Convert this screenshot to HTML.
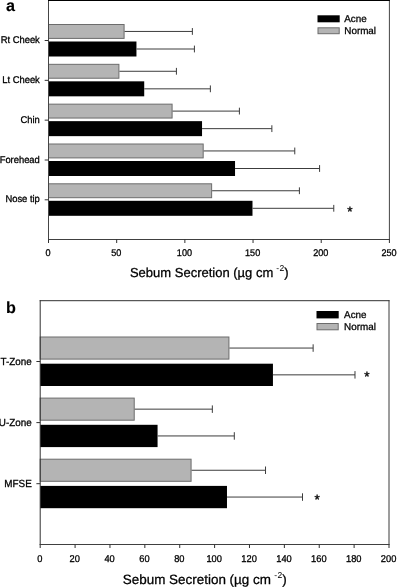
<!DOCTYPE html>
<html><head><meta charset="utf-8"><title>Sebum Secretion</title>
<style>
html,body{margin:0;padding:0;background:#fff;}
body{width:397px;height:587px;overflow:hidden;}
svg{display:block;font-family:"Liberation Sans",Arial,sans-serif;}
text{text-rendering:geometricPrecision;fill:#000;stroke:#000;stroke-width:0.28px;}
.sup{stroke-width:0.05px;}
.lab{font-size:9.4px;}
.tk{font-size:9.1px;}
.ttl{font-size:13px;}
.sup{font-size:8.5px;}
.pan{font-size:16.2px;font-weight:bold;stroke-width:0.1px;}
.ast{font-size:13.6px;stroke-width:0.35px;}
.leg{font-size:9.85px;}
</style></head><body>
<svg width="397" height="587" viewBox="0 0 397 587">
<rect x="0" y="0" width="397" height="587" fill="#fff"/>

<rect x="48.5" y="24.5" width="75.59" height="13.9" fill="#b4b4b4" stroke="#6c6c6c" stroke-width="1"/>
<path d="M124.59 31.45H192.36M192.36 28.05V34.85" stroke="#3c3c3c" stroke-width="1" fill="none"/>
<rect x="48.5" y="41.5" width="87.95" height="15" fill="#000"/>
<path d="M136.45 49H194.41M194.41 45.6V52.4" stroke="#3c3c3c" stroke-width="1" fill="none"/>
<path d="M44.7 40.5H48.5" stroke="#303030" stroke-width="1"/>
<text class="lab" transform="translate(39.8 43.1) scale(1 1.04)" text-anchor="end">Rt Cheek</text>
<rect x="48.5" y="64.33" width="70.41" height="13.9" fill="#b4b4b4" stroke="#6c6c6c" stroke-width="1"/>
<path d="M119.41 71.28H176.41M176.41 67.88V74.68" stroke="#3c3c3c" stroke-width="1" fill="none"/>
<rect x="48.5" y="81.33" width="95.72" height="15" fill="#000"/>
<path d="M144.22 88.83H210.36M210.36 85.43V92.23" stroke="#3c3c3c" stroke-width="1" fill="none"/>
<path d="M44.7 80.33H48.5" stroke="#303030" stroke-width="1"/>
<text class="lab" transform="translate(39.8 82.93) scale(1 1.04)" text-anchor="end">Lt Cheek</text>
<rect x="48.5" y="104.15" width="123.59" height="13.9" fill="#b4b4b4" stroke="#6c6c6c" stroke-width="1"/>
<path d="M172.59 111.1H239.4M239.4 107.7V114.5" stroke="#3c3c3c" stroke-width="1" fill="none"/>
<rect x="48.5" y="121.15" width="153.54" height="15" fill="#000"/>
<path d="M202.04 128.65H271.86M271.86 125.25V132.05" stroke="#3c3c3c" stroke-width="1" fill="none"/>
<path d="M44.7 120.15H48.5" stroke="#303030" stroke-width="1"/>
<text class="lab" transform="translate(39.8 122.75) scale(1 1.04)" text-anchor="end">Chin</text>
<rect x="48.5" y="144" width="154.68" height="13.9" fill="#b4b4b4" stroke="#6c6c6c" stroke-width="1"/>
<path d="M203.68 150.95H294.77M294.77 147.55V154.35" stroke="#3c3c3c" stroke-width="1" fill="none"/>
<rect x="48.5" y="161" width="186.54" height="15" fill="#000"/>
<path d="M235.04 168.5H319.58M319.58 165.1V171.9" stroke="#3c3c3c" stroke-width="1" fill="none"/>
<path d="M44.7 160H48.5" stroke="#303030" stroke-width="1"/>
<text class="lab" transform="translate(39.8 162.6) scale(1 1.04)" text-anchor="end">Forehead</text>
<rect x="48.5" y="183.8" width="163.13" height="13.9" fill="#b4b4b4" stroke="#6c6c6c" stroke-width="1"/>
<path d="M212.13 190.75H299.4M299.4 187.35V194.15" stroke="#3c3c3c" stroke-width="1" fill="none"/>
<rect x="48.5" y="200.8" width="203.99" height="15" fill="#000"/>
<path d="M252.49 208.3H333.77M333.77 204.9V211.7" stroke="#3c3c3c" stroke-width="1" fill="none"/>
<path d="M44.7 199.8H48.5" stroke="#303030" stroke-width="1"/>
<text class="lab" transform="translate(39.8 202.4) scale(1 1.04)" text-anchor="end">Nose tip</text>
<path d="M48.5 0V240" stroke="#454545" stroke-width="1" fill="none"/>
<path d="M389.4 0V240" stroke="#454545" stroke-width="1" fill="none"/>
<path d="M48 239.5H389.9" stroke="#404040" stroke-width="1" fill="none"/>
<path d="M48 0.5H389.9" stroke="#000" stroke-width="1" fill="none"/>
<path d="M48.5 239.5V243" stroke="#303030" stroke-width="1"/>
<text class="tk" transform="translate(48.1 256) scale(1 1.06)" text-anchor="middle">0</text>
<path d="M116.68 239.5V243" stroke="#303030" stroke-width="1"/>
<text class="tk" transform="translate(116.28 256) scale(1 1.06)" text-anchor="middle">50</text>
<path d="M184.86 239.5V243" stroke="#303030" stroke-width="1"/>
<text class="tk" transform="translate(184.46 256) scale(1 1.06)" text-anchor="middle">100</text>
<path d="M253.04 239.5V243" stroke="#303030" stroke-width="1"/>
<text class="tk" transform="translate(252.64 256) scale(1 1.06)" text-anchor="middle">150</text>
<path d="M321.22 239.5V243" stroke="#303030" stroke-width="1"/>
<text class="tk" transform="translate(320.82 256) scale(1 1.06)" text-anchor="middle">200</text>
<path d="M389.4 239.5V243" stroke="#303030" stroke-width="1"/>
<text class="tk" transform="translate(389 256) scale(1 1.06)" text-anchor="middle">250</text>
<text class="ttl" transform="translate(209.3 276.8) scale(1 1.0)" text-anchor="middle">Sebum Secretion (µg cm <tspan class="sup" dy="-6.2" dx="-0.5">-</tspan><tspan class="sup" dx="0.4">2</tspan><tspan dy="6.2">)</tspan></text>
<rect x="317.5" y="15.3" width="22.2" height="7" fill="#000"/>
<rect x="318" y="27.8" width="21.2" height="5.9" fill="#b4b4b4" stroke="#6c6c6c" stroke-width="1"/>
<text class="leg" transform="translate(344.3 21.9) scale(1 1.0)">Acne</text>
<text class="leg" transform="translate(344.3 33.8) scale(1 1.0)">Normal</text>
<text class="pan" x="6.1" y="10.8">a</text>
<text class="ast" x="349.8" y="216.1" text-anchor="middle">*</text>
<rect x="40.2" y="337" width="188.72" height="22.1" fill="#b4b4b4" stroke="#6c6c6c" stroke-width="1"/>
<path d="M229.42 348.05H313.14M313.14 344.3V351.8" stroke="#3c3c3c" stroke-width="1" fill="none"/>
<rect x="40.2" y="363.7" width="232.74" height="22.3" fill="#000"/>
<path d="M272.94 374.85H354.99M354.99 371.1V378.6" stroke="#3c3c3c" stroke-width="1" fill="none"/>
<path d="M36.4 361.5H40.2" stroke="#303030" stroke-width="1"/>
<text class="lab" transform="translate(31.8 364.9) scale(1 1.04)" text-anchor="end" style="font-size:9.9px">T-Zone</text>
<rect x="40.2" y="398.1" width="94.02" height="22.1" fill="#b4b4b4" stroke="#6c6c6c" stroke-width="1"/>
<path d="M134.72 409.15H212.33M212.33 405.4V412.9" stroke="#3c3c3c" stroke-width="1" fill="none"/>
<rect x="40.2" y="424.8" width="117.37" height="22.3" fill="#000"/>
<path d="M157.57 435.95H234.31M234.31 432.2V439.7" stroke="#3c3c3c" stroke-width="1" fill="none"/>
<path d="M36.4 422.6H40.2" stroke="#303030" stroke-width="1"/>
<text class="lab" transform="translate(31.8 426) scale(1 1.04)" text-anchor="end" style="font-size:9.9px">U-Zone</text>
<rect x="40.2" y="459.2" width="150.88" height="22.1" fill="#b4b4b4" stroke="#6c6c6c" stroke-width="1"/>
<path d="M191.58 470.25H265.52M265.52 466.5V474" stroke="#3c3c3c" stroke-width="1" fill="none"/>
<rect x="40.2" y="485.9" width="186.78" height="22.3" fill="#000"/>
<path d="M226.98 497.05H302.5M302.5 493.3V500.8" stroke="#3c3c3c" stroke-width="1" fill="none"/>
<path d="M36.4 483.7H40.2" stroke="#303030" stroke-width="1"/>
<text class="lab" transform="translate(31.8 487.1) scale(1 1.04)" text-anchor="end" style="font-size:9.9px">MFSE</text>
<path d="M40.2 300.2V545" stroke="#303030" stroke-width="1" fill="none"/>
<path d="M389 300.2V545" stroke="#3a3a3a" stroke-width="1" fill="none"/>
<path d="M39.7 544.5H389.5" stroke="#404040" stroke-width="1" fill="none"/>
<path d="M39.7 300.7H389.5" stroke="#303030" stroke-width="1" fill="none"/>
<path d="M40.2 544.5V548" stroke="#303030" stroke-width="1"/>
<text class="tk" transform="translate(39.8 561.6) scale(1 1.06)" text-anchor="middle" style="font-size:9.3px">0</text>
<path d="M75.08 544.5V548" stroke="#303030" stroke-width="1"/>
<text class="tk" transform="translate(74.68 561.6) scale(1 1.06)" text-anchor="middle" style="font-size:9.3px">20</text>
<path d="M109.96 544.5V548" stroke="#303030" stroke-width="1"/>
<text class="tk" transform="translate(109.56 561.6) scale(1 1.06)" text-anchor="middle" style="font-size:9.3px">40</text>
<path d="M144.84 544.5V548" stroke="#303030" stroke-width="1"/>
<text class="tk" transform="translate(144.44 561.6) scale(1 1.06)" text-anchor="middle" style="font-size:9.3px">60</text>
<path d="M179.72 544.5V548" stroke="#303030" stroke-width="1"/>
<text class="tk" transform="translate(179.32 561.6) scale(1 1.06)" text-anchor="middle" style="font-size:9.3px">80</text>
<path d="M214.6 544.5V548" stroke="#303030" stroke-width="1"/>
<text class="tk" transform="translate(214.2 561.6) scale(1 1.06)" text-anchor="middle" style="font-size:9.3px">100</text>
<path d="M249.48 544.5V548" stroke="#303030" stroke-width="1"/>
<text class="tk" transform="translate(249.08 561.6) scale(1 1.06)" text-anchor="middle" style="font-size:9.3px">120</text>
<path d="M284.36 544.5V548" stroke="#303030" stroke-width="1"/>
<text class="tk" transform="translate(283.96 561.6) scale(1 1.06)" text-anchor="middle" style="font-size:9.3px">140</text>
<path d="M319.24 544.5V548" stroke="#303030" stroke-width="1"/>
<text class="tk" transform="translate(318.84 561.6) scale(1 1.06)" text-anchor="middle" style="font-size:9.3px">160</text>
<path d="M354.12 544.5V548" stroke="#303030" stroke-width="1"/>
<text class="tk" transform="translate(353.72 561.6) scale(1 1.06)" text-anchor="middle" style="font-size:9.3px">180</text>
<path d="M389 544.5V548" stroke="#303030" stroke-width="1"/>
<text class="tk" transform="translate(388.6 561.6) scale(1 1.06)" text-anchor="middle" style="font-size:9.3px">200</text>
<text class="ttl" transform="translate(204.7 584) scale(1 1.0)" text-anchor="middle" style="font-size:13.45px">Sebum Secretion (µg cm <tspan class="sup" dy="-6.2" dx="-0.5">-</tspan><tspan class="sup" dx="0.4">2</tspan><tspan dy="6.2">)</tspan></text>
<rect x="316.5" y="311" width="22.2" height="7.4" fill="#000"/>
<rect x="317" y="323.5" width="21.2" height="6.3" fill="#b4b4b4" stroke="#6c6c6c" stroke-width="1"/>
<text class="leg" transform="translate(344.1 317.6) scale(1 1.0)">Acne</text>
<text class="leg" transform="translate(344.1 329.5) scale(1 1.0)">Normal</text>
<text class="pan" x="6.1" y="313.4">b</text>
<text class="ast" x="367" y="381.4" text-anchor="middle">*</text>
<text class="ast" x="317.2" y="503.8" text-anchor="middle">*</text>
</svg></body></html>
